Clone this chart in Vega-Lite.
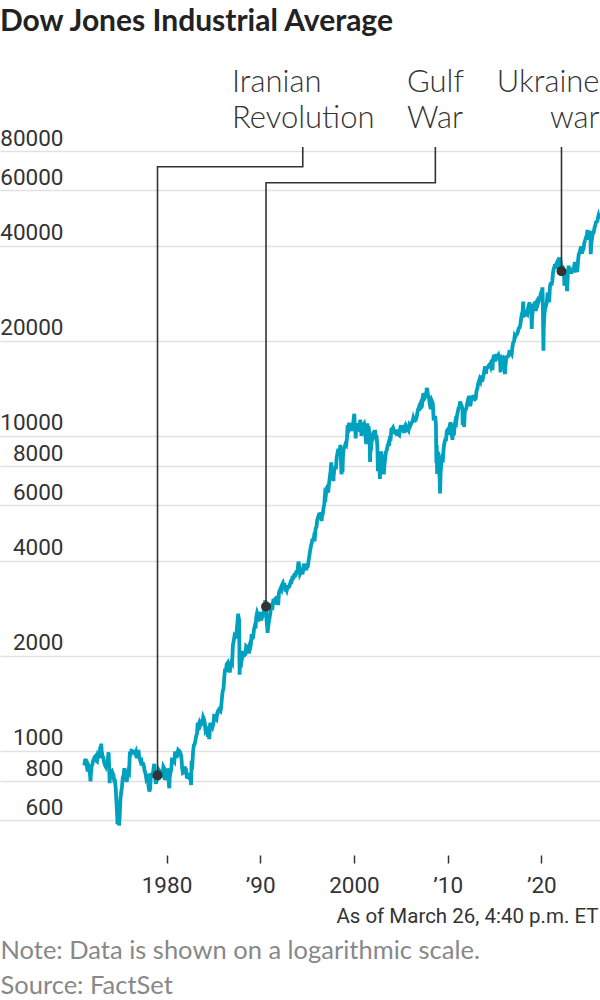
{
  "$schema": "https://vega.github.io/schema/vega-lite/v6.json",
  "width": 600,
  "height": 815,
  "autosize": {"type": "none"},
  "padding": {"left": 0, "right": 0, "top": 40, "bottom": 145},
  "background": "white",
  "title": {"text": "Dow Jones Industrial Average", "anchor": "start", "frame": "group", "font": "Lato", "fontSize": 30, "fontWeight": "bold", "color": "#222222", "offset": 3},
  "config": {"view": {"stroke": null}, "font": "Lato"},
  "datasets": {
    "dow": [
      {"t":1971.2,"v":897},{"t":1971.25,"v":904},{"t":1971.333,"v":942},{"t":1971.417,"v":907},{"t":1971.5,"v":891},{"t":1971.583,"v":858},{"t":1971.667,"v":898},{"t":1971.75,"v":887},{"t":1971.833,"v":839},{"t":1971.89,"v":798},{"t":1971.917,"v":831},
      {"t":1972.0,"v":890},{"t":1972.083,"v":902},{"t":1972.167,"v":928},{"t":1972.25,"v":940},{"t":1972.333,"v":954},{"t":1972.417,"v":960},{"t":1972.5,"v":929},{"t":1972.583,"v":924},{"t":1972.667,"v":964},{"t":1972.75,"v":953},{"t":1972.833,"v":956},{"t":1972.917,"v":1018},
      {"t":1973.0,"v":1020},{"t":1973.03,"v":1051},{"t":1973.083,"v":999},{"t":1973.167,"v":955},{"t":1973.25,"v":951},{"t":1973.333,"v":921},{"t":1973.417,"v":901},{"t":1973.5,"v":891},{"t":1973.583,"v":926},{"t":1973.667,"v":888},{"t":1973.75,"v":947},{"t":1973.82,"v":987},{"t":1973.833,"v":957},{"t":1973.917,"v":822},{"t":1973.93,"v":788},
      {"t":1974.0,"v":851},{"t":1974.083,"v":856},{"t":1974.167,"v":861},{"t":1974.25,"v":847},{"t":1974.333,"v":837},{"t":1974.417,"v":802},{"t":1974.5,"v":802},{"t":1974.583,"v":757},{"t":1974.667,"v":679},{"t":1974.75,"v":608},{"t":1974.76,"v":584},{"t":1974.833,"v":666},{"t":1974.917,"v":619},{"t":1974.93,"v":578},
      {"t":1975.0,"v":616},{"t":1975.083,"v":704},{"t":1975.167,"v":739},{"t":1975.25,"v":768},{"t":1975.333,"v":821},{"t":1975.417,"v":832},{"t":1975.5,"v":879},{"t":1975.583,"v":832},{"t":1975.667,"v":835},{"t":1975.75,"v":794},{"t":1975.833,"v":836},{"t":1975.917,"v":860},
      {"t":1976.0,"v":852},{"t":1976.083,"v":975},{"t":1976.167,"v":973},{"t":1976.25,"v":999},{"t":1976.333,"v":997},{"t":1976.417,"v":975},{"t":1976.5,"v":1003},{"t":1976.583,"v":985},{"t":1976.667,"v":974},{"t":1976.75,"v":990},{"t":1976.833,"v":965},{"t":1976.917,"v":947},
      {"t":1977.0,"v":1004},{"t":1977.083,"v":954},{"t":1977.167,"v":936},{"t":1977.25,"v":919},{"t":1977.333,"v":926},{"t":1977.417,"v":898},{"t":1977.5,"v":916},{"t":1977.583,"v":890},{"t":1977.667,"v":862},{"t":1977.75,"v":847},{"t":1977.833,"v":818},{"t":1977.917,"v":829},
      {"t":1978.0,"v":831},{"t":1978.083,"v":770},{"t":1978.167,"v":742},{"t":1978.25,"v":757},{"t":1978.333,"v":837},{"t":1978.417,"v":840},{"t":1978.5,"v":819},{"t":1978.583,"v":862},{"t":1978.69,"v":907},{"t":1978.75,"v":865},{"t":1978.833,"v":792},{"t":1978.87,"v":785},{"t":1978.917,"v":799},
      {"t":1979.0,"v":805},{"t":1979.083,"v":839},{"t":1979.167,"v":808},{"t":1979.25,"v":862},{"t":1979.333,"v":855},{"t":1979.417,"v":822},{"t":1979.5,"v":842},{"t":1979.583,"v":846},{"t":1979.667,"v":888},{"t":1979.75,"v":878},{"t":1979.8,"v":806},{"t":1979.833,"v":815},{"t":1979.917,"v":822},
      {"t":1980.0,"v":839},{"t":1980.083,"v":876},{"t":1980.167,"v":863},{"t":1980.25,"v":786},{"t":1980.3,"v":759},{"t":1980.333,"v":817},{"t":1980.417,"v":851},{"t":1980.5,"v":868},{"t":1980.583,"v":935},{"t":1980.667,"v":933},{"t":1980.75,"v":932},{"t":1980.833,"v":924},{"t":1980.917,"v":993},
      {"t":1981.0,"v":964},{"t":1981.083,"v":947},{"t":1981.167,"v":975},{"t":1981.25,"v":1004},{"t":1981.333,"v":998},{"t":1981.417,"v":992},{"t":1981.5,"v":977},{"t":1981.583,"v":953},{"t":1981.667,"v":882},{"t":1981.75,"v":850},{"t":1981.833,"v":853},{"t":1981.917,"v":889},
      {"t":1982.0,"v":875},{"t":1982.083,"v":871},{"t":1982.167,"v":824},{"t":1982.25,"v":823},{"t":1982.333,"v":848},{"t":1982.417,"v":820},{"t":1982.5,"v":812},{"t":1982.583,"v":809},{"t":1982.62,"v":777},{"t":1982.667,"v":901},{"t":1982.75,"v":896},{"t":1982.833,"v":992},{"t":1982.917,"v":1039},
      {"t":1983.0,"v":1047},{"t":1983.083,"v":1076},{"t":1983.167,"v":1113},{"t":1983.25,"v":1130},{"t":1983.333,"v":1226},{"t":1983.417,"v":1200},{"t":1983.5,"v":1222},{"t":1983.583,"v":1199},{"t":1983.667,"v":1216},{"t":1983.75,"v":1233},{"t":1983.833,"v":1225},{"t":1983.917,"v":1276},
      {"t":1984.0,"v":1259},{"t":1984.083,"v":1221},{"t":1984.167,"v":1155},{"t":1984.25,"v":1165},{"t":1984.333,"v":1171},{"t":1984.417,"v":1105},{"t":1984.5,"v":1132},{"t":1984.55,"v":1087},{"t":1984.583,"v":1115},{"t":1984.667,"v":1224},{"t":1984.75,"v":1207},{"t":1984.833,"v":1207},{"t":1984.917,"v":1189},
      {"t":1985.0,"v":1212},{"t":1985.083,"v":1287},{"t":1985.167,"v":1284},{"t":1985.25,"v":1267},{"t":1985.333,"v":1258},{"t":1985.417,"v":1315},{"t":1985.5,"v":1336},{"t":1985.583,"v":1348},{"t":1985.667,"v":1334},{"t":1985.75,"v":1329},{"t":1985.833,"v":1374},{"t":1985.917,"v":1472},
      {"t":1986.0,"v":1547},{"t":1986.083,"v":1571},{"t":1986.167,"v":1710},{"t":1986.25,"v":1819},{"t":1986.333,"v":1784},{"t":1986.417,"v":1877},{"t":1986.5,"v":1893},{"t":1986.583,"v":1775},{"t":1986.667,"v":1898},{"t":1986.75,"v":1768},{"t":1986.833,"v":1878},{"t":1986.917,"v":1914},
      {"t":1987.0,"v":1896},{"t":1987.083,"v":2158},{"t":1987.167,"v":2224},{"t":1987.25,"v":2305},{"t":1987.333,"v":2286},{"t":1987.417,"v":2292},{"t":1987.5,"v":2419},{"t":1987.583,"v":2572},{"t":1987.65,"v":2722},{"t":1987.667,"v":2663},{"t":1987.75,"v":2596},{"t":1987.8,"v":1739},{"t":1987.833,"v":1994},{"t":1987.917,"v":1834},
      {"t":1988.0,"v":1939},{"t":1988.083,"v":1958},{"t":1988.167,"v":2072},{"t":1988.25,"v":1988},{"t":1988.333,"v":2032},{"t":1988.417,"v":2031},{"t":1988.5,"v":2142},{"t":1988.583,"v":2129},{"t":1988.667,"v":2032},{"t":1988.75,"v":2113},{"t":1988.833,"v":2149},{"t":1988.917,"v":2115},
      {"t":1989.0,"v":2169},{"t":1989.083,"v":2342},{"t":1989.167,"v":2258},{"t":1989.25,"v":2294},{"t":1989.333,"v":2419},{"t":1989.417,"v":2480},{"t":1989.5,"v":2440},{"t":1989.583,"v":2661},{"t":1989.667,"v":2737},{"t":1989.75,"v":2693},{"t":1989.79,"v":2569},{"t":1989.833,"v":2645},{"t":1989.917,"v":2706},
      {"t":1990.0,"v":2753},{"t":1990.083,"v":2591},{"t":1990.167,"v":2627},{"t":1990.25,"v":2707},{"t":1990.333,"v":2657},{"t":1990.417,"v":2877},{"t":1990.5,"v":2881},{"t":1990.54,"v":3000},{"t":1990.583,"v":2905},{"t":1990.62,"v":2864},{"t":1990.667,"v":2614},{"t":1990.75,"v":2453},{"t":1990.78,"v":2365},{"t":1990.833,"v":2442},{"t":1990.917,"v":2560},
      {"t":1991.0,"v":2634},{"t":1991.083,"v":2736},{"t":1991.167,"v":2882},{"t":1991.25,"v":2914},{"t":1991.333,"v":2888},{"t":1991.417,"v":3028},{"t":1991.5,"v":2907},{"t":1991.583,"v":3025},{"t":1991.667,"v":3044},{"t":1991.75,"v":3017},{"t":1991.833,"v":3069},{"t":1991.917,"v":2895},
      {"t":1992.0,"v":3169},{"t":1992.083,"v":3224},{"t":1992.167,"v":3267},{"t":1992.25,"v":3236},{"t":1992.333,"v":3359},{"t":1992.417,"v":3397},{"t":1992.5,"v":3319},{"t":1992.583,"v":3394},{"t":1992.667,"v":3257},{"t":1992.75,"v":3272},{"t":1992.833,"v":3226},{"t":1992.917,"v":3305},
      {"t":1993.0,"v":3301},{"t":1993.083,"v":3310},{"t":1993.167,"v":3370},{"t":1993.25,"v":3435},{"t":1993.333,"v":3428},{"t":1993.417,"v":3527},{"t":1993.5,"v":3516},{"t":1993.583,"v":3540},{"t":1993.667,"v":3651},{"t":1993.75,"v":3555},{"t":1993.833,"v":3681},{"t":1993.917,"v":3684},
      {"t":1994.0,"v":3754},{"t":1994.083,"v":3978},{"t":1994.167,"v":3832},{"t":1994.25,"v":3636},{"t":1994.333,"v":3682},{"t":1994.417,"v":3758},{"t":1994.5,"v":3625},{"t":1994.583,"v":3765},{"t":1994.667,"v":3913},{"t":1994.75,"v":3843},{"t":1994.833,"v":3908},{"t":1994.917,"v":3739},
      {"t":1995.0,"v":3834},{"t":1995.083,"v":3844},{"t":1995.167,"v":4011},{"t":1995.25,"v":4158},{"t":1995.333,"v":4321},{"t":1995.417,"v":4465},{"t":1995.5,"v":4556},{"t":1995.583,"v":4709},{"t":1995.667,"v":4611},{"t":1995.75,"v":4789},{"t":1995.833,"v":4756},{"t":1995.917,"v":5075},
      {"t":1996.0,"v":5117},{"t":1996.083,"v":5395},{"t":1996.167,"v":5486},{"t":1996.25,"v":5587},{"t":1996.333,"v":5569},{"t":1996.417,"v":5643},{"t":1996.5,"v":5655},{"t":1996.55,"v":5346},{"t":1996.583,"v":5529},{"t":1996.667,"v":5616},{"t":1996.75,"v":5882},{"t":1996.833,"v":6029},{"t":1996.917,"v":6522},
      {"t":1997.0,"v":6448},{"t":1997.083,"v":6813},{"t":1997.167,"v":6878},{"t":1997.25,"v":6584},{"t":1997.333,"v":7009},{"t":1997.417,"v":7331},{"t":1997.5,"v":7673},{"t":1997.583,"v":8223},{"t":1997.667,"v":7622},{"t":1997.75,"v":7945},{"t":1997.82,"v":7161},{"t":1997.833,"v":7442},{"t":1997.917,"v":7823},
      {"t":1998.0,"v":7908},{"t":1998.083,"v":7907},{"t":1998.167,"v":8546},{"t":1998.25,"v":8800},{"t":1998.333,"v":9063},{"t":1998.417,"v":8900},{"t":1998.5,"v":8952},{"t":1998.55,"v":9338},{"t":1998.583,"v":8883},{"t":1998.667,"v":7539},{"t":1998.75,"v":7843},{"t":1998.78,"v":7632},{"t":1998.833,"v":8592},{"t":1998.917,"v":9117},
      {"t":1999.0,"v":9181},{"t":1999.083,"v":9359},{"t":1999.167,"v":9307},{"t":1999.25,"v":9786},{"t":1999.333,"v":10789},{"t":1999.417,"v":10560},{"t":1999.5,"v":10971},{"t":1999.583,"v":10655},{"t":1999.667,"v":10829},{"t":1999.75,"v":10337},{"t":1999.833,"v":10730},{"t":1999.917,"v":10878},
      {"t":2000.0,"v":11497},{"t":2000.04,"v":11723},{"t":2000.083,"v":10941},{"t":2000.167,"v":10128},{"t":2000.19,"v":9796},{"t":2000.25,"v":10922},{"t":2000.333,"v":10734},{"t":2000.417,"v":10522},{"t":2000.5,"v":10448},{"t":2000.583,"v":10522},{"t":2000.667,"v":11215},{"t":2000.75,"v":10651},{"t":2000.8,"v":9975},{"t":2000.833,"v":10971},{"t":2000.917,"v":10415},
      {"t":2001.0,"v":10787},{"t":2001.083,"v":10887},{"t":2001.167,"v":10495},{"t":2001.25,"v":9879},{"t":2001.3,"v":9389},{"t":2001.333,"v":10735},{"t":2001.417,"v":10912},{"t":2001.5,"v":10502},{"t":2001.583,"v":10523},{"t":2001.667,"v":9950},{"t":2001.72,"v":8236},{"t":2001.75,"v":8848},{"t":2001.833,"v":9075},{"t":2001.917,"v":9852},
      {"t":2002.0,"v":10022},{"t":2002.083,"v":9920},{"t":2002.167,"v":10106},{"t":2002.25,"v":10404},{"t":2002.333,"v":9946},{"t":2002.417,"v":9925},{"t":2002.5,"v":9243},{"t":2002.56,"v":7702},{"t":2002.583,"v":8737},{"t":2002.667,"v":8664},{"t":2002.75,"v":7592},{"t":2002.775,"v":7286},{"t":2002.833,"v":8397},{"t":2002.917,"v":8896},
      {"t":2003.0,"v":8342},{"t":2003.083,"v":8054},{"t":2003.167,"v":7891},{"t":2003.19,"v":7524},{"t":2003.25,"v":7992},{"t":2003.333,"v":8480},{"t":2003.417,"v":8850},{"t":2003.5,"v":8985},{"t":2003.583,"v":9234},{"t":2003.667,"v":9416},{"t":2003.75,"v":9275},{"t":2003.833,"v":9801},{"t":2003.917,"v":9782},
      {"t":2004.0,"v":10454},{"t":2004.083,"v":10488},{"t":2004.167,"v":10584},{"t":2004.25,"v":10358},{"t":2004.333,"v":10226},{"t":2004.417,"v":10188},{"t":2004.5,"v":10435},{"t":2004.583,"v":10140},{"t":2004.667,"v":10174},{"t":2004.75,"v":10080},{"t":2004.833,"v":10027},{"t":2004.917,"v":10428},
      {"t":2005.0,"v":10783},{"t":2005.083,"v":10490},{"t":2005.167,"v":10766},{"t":2005.25,"v":10504},{"t":2005.333,"v":10193},{"t":2005.417,"v":10467},{"t":2005.5,"v":10275},{"t":2005.583,"v":10641},{"t":2005.667,"v":10482},{"t":2005.75,"v":10569},{"t":2005.833,"v":10440},{"t":2005.917,"v":10806},
      {"t":2006.0,"v":10718},{"t":2006.083,"v":10865},{"t":2006.167,"v":10993},{"t":2006.25,"v":11109},{"t":2006.333,"v":11367},{"t":2006.417,"v":11168},{"t":2006.5,"v":11150},{"t":2006.583,"v":11186},{"t":2006.667,"v":11381},{"t":2006.75,"v":11679},{"t":2006.833,"v":12081},{"t":2006.917,"v":12221},
      {"t":2007.0,"v":12463},{"t":2007.083,"v":12622},{"t":2007.167,"v":12269},{"t":2007.25,"v":12354},{"t":2007.333,"v":13063},{"t":2007.417,"v":13628},{"t":2007.5,"v":13409},{"t":2007.583,"v":13212},{"t":2007.667,"v":13358},{"t":2007.75,"v":13896},{"t":2007.77,"v":14165},{"t":2007.833,"v":13930},{"t":2007.917,"v":13372},
      {"t":2008.0,"v":13265},{"t":2008.083,"v":12650},{"t":2008.167,"v":12266},{"t":2008.25,"v":12263},{"t":2008.333,"v":12820},{"t":2008.417,"v":12638},{"t":2008.5,"v":11350},{"t":2008.583,"v":11378},{"t":2008.667,"v":11544},{"t":2008.75,"v":10851},{"t":2008.8,"v":8175},{"t":2008.833,"v":9325},{"t":2008.88,"v":7552},{"t":2008.917,"v":8829},
      {"t":2009.0,"v":8776},{"t":2009.083,"v":8001},{"t":2009.167,"v":7063},{"t":2009.19,"v":6547},{"t":2009.25,"v":7609},{"t":2009.333,"v":8168},{"t":2009.417,"v":8500},{"t":2009.5,"v":8447},{"t":2009.583,"v":9172},{"t":2009.667,"v":9496},{"t":2009.75,"v":9712},{"t":2009.833,"v":9713},{"t":2009.917,"v":10345},
      {"t":2010.0,"v":10428},{"t":2010.083,"v":10067},{"t":2010.167,"v":10325},{"t":2010.25,"v":10857},{"t":2010.333,"v":11009},{"t":2010.417,"v":10137},{"t":2010.5,"v":9774},{"t":2010.51,"v":9686},{"t":2010.583,"v":10466},{"t":2010.667,"v":10015},{"t":2010.75,"v":10788},{"t":2010.833,"v":11118},{"t":2010.917,"v":11006},
      {"t":2011.0,"v":11578},{"t":2011.083,"v":11892},{"t":2011.167,"v":12226},{"t":2011.25,"v":12320},{"t":2011.333,"v":12811},{"t":2011.417,"v":12570},{"t":2011.5,"v":12414},{"t":2011.583,"v":12143},{"t":2011.6,"v":10810},{"t":2011.667,"v":11614},{"t":2011.75,"v":10913},{"t":2011.76,"v":10655},{"t":2011.833,"v":11955},{"t":2011.917,"v":12046},
      {"t":2012.0,"v":12218},{"t":2012.083,"v":12633},{"t":2012.167,"v":12952},{"t":2012.25,"v":13212},{"t":2012.333,"v":13214},{"t":2012.417,"v":12393},{"t":2012.5,"v":12880},{"t":2012.583,"v":13009},{"t":2012.667,"v":13091},{"t":2012.75,"v":13437},{"t":2012.833,"v":13096},{"t":2012.917,"v":13026},
      {"t":2013.0,"v":13104},{"t":2013.083,"v":13861},{"t":2013.167,"v":14054},{"t":2013.25,"v":14579},{"t":2013.333,"v":14840},{"t":2013.417,"v":15116},{"t":2013.5,"v":14910},{"t":2013.583,"v":15500},{"t":2013.667,"v":14810},{"t":2013.75,"v":15130},{"t":2013.833,"v":15546},{"t":2013.917,"v":16086},
      {"t":2014.0,"v":16577},{"t":2014.083,"v":15699},{"t":2014.167,"v":16322},{"t":2014.25,"v":16458},{"t":2014.333,"v":16581},{"t":2014.417,"v":16717},{"t":2014.5,"v":16827},{"t":2014.583,"v":16563},{"t":2014.667,"v":17098},{"t":2014.75,"v":17043},{"t":2014.79,"v":16117},{"t":2014.833,"v":17391},{"t":2014.917,"v":17828},
      {"t":2015.0,"v":17823},{"t":2015.083,"v":17165},{"t":2015.167,"v":18133},{"t":2015.25,"v":17776},{"t":2015.333,"v":17841},{"t":2015.417,"v":18011},{"t":2015.5,"v":17620},{"t":2015.583,"v":17690},{"t":2015.65,"v":15871},{"t":2015.667,"v":16528},{"t":2015.75,"v":16285},{"t":2015.833,"v":17664},{"t":2015.917,"v":17720},
      {"t":2016.0,"v":17425},{"t":2016.083,"v":16466},{"t":2016.11,"v":15660},{"t":2016.167,"v":16517},{"t":2016.25,"v":17685},{"t":2016.333,"v":17774},{"t":2016.417,"v":17787},{"t":2016.5,"v":17930},{"t":2016.583,"v":18432},{"t":2016.667,"v":18401},{"t":2016.75,"v":18308},{"t":2016.833,"v":18142},{"t":2016.917,"v":19124},
      {"t":2017.0,"v":19763},{"t":2017.083,"v":19864},{"t":2017.167,"v":20812},{"t":2017.25,"v":20663},{"t":2017.333,"v":20941},{"t":2017.417,"v":21009},{"t":2017.5,"v":21350},{"t":2017.583,"v":21891},{"t":2017.667,"v":21948},{"t":2017.75,"v":22405},{"t":2017.833,"v":23377},{"t":2017.917,"v":24272},
      {"t":2018.0,"v":24719},{"t":2018.07,"v":26617},{"t":2018.083,"v":26149},{"t":2018.1,"v":23860},{"t":2018.167,"v":25029},{"t":2018.25,"v":24103},{"t":2018.333,"v":24163},{"t":2018.417,"v":24416},{"t":2018.5,"v":24271},{"t":2018.583,"v":25415},{"t":2018.667,"v":25965},{"t":2018.75,"v":26458},{"t":2018.833,"v":25116},{"t":2018.917,"v":25538},{"t":2018.98,"v":21792},
      {"t":2019.0,"v":23327},{"t":2019.083,"v":24999},{"t":2019.167,"v":25916},{"t":2019.25,"v":25929},{"t":2019.333,"v":26593},{"t":2019.417,"v":24815},{"t":2019.5,"v":26600},{"t":2019.583,"v":26864},{"t":2019.667,"v":26403},{"t":2019.75,"v":26917},{"t":2019.833,"v":27046},{"t":2019.917,"v":28051},
      {"t":2020.0,"v":28538},{"t":2020.083,"v":28256},{"t":2020.12,"v":29551},{"t":2020.167,"v":25409},{"t":2020.225,"v":18592},{"t":2020.25,"v":21917},{"t":2020.333,"v":24346},{"t":2020.417,"v":25383},{"t":2020.5,"v":25813},{"t":2020.583,"v":26428},{"t":2020.667,"v":28430},{"t":2020.75,"v":27782},{"t":2020.833,"v":26502},{"t":2020.917,"v":29639},
      {"t":2021.0,"v":30606},{"t":2021.083,"v":29983},{"t":2021.167,"v":30932},{"t":2021.25,"v":32982},{"t":2021.333,"v":33875},{"t":2021.417,"v":34529},{"t":2021.5,"v":34503},{"t":2021.583,"v":34935},{"t":2021.667,"v":35361},{"t":2021.75,"v":33844},{"t":2021.833,"v":35820},{"t":2021.917,"v":34484},
      {"t":2022.0,"v":36338},{"t":2022.01,"v":36799},{"t":2022.083,"v":35132},{"t":2022.15,"v":33224},{"t":2022.167,"v":33893},{"t":2022.25,"v":34678},{"t":2022.333,"v":32977},{"t":2022.417,"v":32990},{"t":2022.46,"v":29888},{"t":2022.5,"v":30775},{"t":2022.583,"v":32845},{"t":2022.667,"v":31510},{"t":2022.75,"v":28726},{"t":2022.833,"v":32733},{"t":2022.917,"v":34590},
      {"t":2023.0,"v":33147},{"t":2023.083,"v":34086},{"t":2023.167,"v":32657},{"t":2023.25,"v":33274},{"t":2023.333,"v":34098},{"t":2023.417,"v":32908},{"t":2023.5,"v":34408},{"t":2023.583,"v":35560},{"t":2023.667,"v":34722},{"t":2023.75,"v":33508},{"t":2023.833,"v":33053},{"t":2023.917,"v":35951},
      {"t":2024.0,"v":37690},{"t":2024.083,"v":38150},{"t":2024.167,"v":38996},{"t":2024.25,"v":39807},{"t":2024.333,"v":37816},{"t":2024.417,"v":38686},{"t":2024.5,"v":39119},{"t":2024.583,"v":40843},{"t":2024.667,"v":41563},{"t":2024.75,"v":42330},{"t":2024.833,"v":41763},{"t":2024.917,"v":44911},
      {"t":2025.0,"v":42544},{"t":2025.083,"v":44545},{"t":2025.167,"v":43841},{"t":2025.25,"v":42002},{"t":2025.27,"v":37645},{"t":2025.333,"v":40669},{"t":2025.417,"v":42270},{"t":2025.5,"v":44095},{"t":2025.583,"v":44131},{"t":2025.667,"v":45545},{"t":2025.75,"v":46398},{"t":2025.833,"v":47563},{"t":2025.917,"v":47716},
      {"t":2026.0,"v":48063},{"t":2026.04,"v":49100},{"t":2026.1,"v":49900},{"t":2026.15,"v":49300},{"t":2026.19,"v":48800},{"t":2026.23,"v":49700}
    ],
    "events": [
      {"event":"Iranian Revolution","t":1979.04,"v":835},
      {"event":"Gulf War","t":1990.62,"v":2864},
      {"event":"Ukraine war","t":2022.15,"v":33224}
    ],
    "connectors": [
      {"event":"Iranian Revolution","i":1,"t":1979.04,"v":835},
      {"event":"Iranian Revolution","i":2,"t":1979.04,"v":71340},
      {"event":"Iranian Revolution","i":3,"t":1994.54,"v":71340},
      {"event":"Iranian Revolution","i":4,"t":1994.54,"v":82400},
      {"event":"Gulf War","i":1,"t":1990.62,"v":2864},
      {"event":"Gulf War","i":2,"t":1990.62,"v":63460},
      {"event":"Gulf War","i":3,"t":2008.69,"v":63460},
      {"event":"Gulf War","i":4,"t":2008.69,"v":82400},
      {"event":"Ukraine war","i":1,"t":2022.15,"v":33224},
      {"event":"Ukraine war","i":2,"t":2022.15,"v":82400}
    ],
    "labels": [
      {"event":"Iranian Revolution","label":"Iranian\nRevolution","t":1986.99,"v":123200},
      {"event":"Gulf War","label":"Gulf\nWar","t":2005.67,"v":123200},
      {"event":"Ukraine war","label":"Ukraine\nwar","t":2026.21,"v":123200}
    ]
  },
  "encoding": {
    "x": {
      "field": "t",
      "type": "quantitative",
      "scale": {"domain": [1962.23, 2026.26], "nice": false, "zero": false},
      "axis": {
        "values": [1980, 1990, 2000, 2010, 2020],
        "labelExpr": "datum.value == 1980 || datum.value == 2000 ? toString(datum.value) : '’' + substring(toString(datum.value), 2)",
        "title": "As of March 26, 4:40 p.m. ET",
        "titleX": 598,
        "titleY": 67,
        "titleAlign": "right",
        "titleAnchor": "end",
        "titleBaseline": "alphabetic",
        "titleFont": "Roboto",
        "titleFontSize": 20.5,
        "titleFontWeight": "normal",
        "titleColor": "#333333",
        "domain": false,
        "grid": false,
        "ticks": true,
        "tickSize": 8,
        "tickWidth": 1.5,
        "tickColor": "#333333",
        "labelFont": "Roboto",
        "labelFontSize": 22.5,
        "labelColor": "#333333",
        "labelPadding": 11,
        "labelFlush": false,
        "labelOverlap": false
      }
    },
    "y": {
      "field": "v",
      "type": "quantitative",
      "scale": {"type": "log", "domain": [466, 180100], "nice": false, "zero": false},
      "axis": {
        "values": [600, 800, 1000, 2000, 4000, 6000, 8000, 10000, 20000, 40000, 60000, 80000],
        "format": "d",
        "title": ["Note: Data is shown on a logarithmic scale.", "Source: FactSet"],
        "titleAngle": 0,
        "titleAlign": "left",
        "titleBaseline": "alphabetic",
        "titleX": 0,
        "titleY": 918,
        "titleFont": "Lato",
        "titleFontSize": 25.5,
        "titleFontWeight": "normal",
        "titleColor": "#888888",
        "titleLineHeight": 35,
        "domain": false,
        "ticks": false,
        "tickSize": 0,
        "grid": true,
        "gridColor": "#e1e1e1",
        "gridWidth": 1.5,
        "labelAlign": "right",
        "labelBaseline": "alphabetic",
        "labelPadding": -63,
        "labelOffset": -6,
        "labelFont": "Roboto",
        "labelFontSize": 22.5,
        "labelColor": "#333333",
        "labelOverlap": false
      }
    }
  },
  "layer": [
    {
      "data": {"name": "dow"},
      "mark": {"type": "line", "color": "#00a1bf", "strokeWidth": 3.8, "strokeJoin": "miter"}
    },
    {
      "data": {"name": "connectors"},
      "mark": {"type": "line", "color": "#333333", "strokeWidth": 1.6},
      "encoding": {"detail": {"field": "event"}, "order": {"field": "i", "type": "quantitative"}}
    },
    {
      "data": {"name": "events"},
      "mark": {"type": "point", "filled": true, "color": "#333333", "size": 100, "opacity": 1}
    },
    {
      "data": {"name": "labels"},
      "transform": [{"filter": "datum.event != 'Ukraine war'"}],
      "mark": {"type": "text", "align": "left", "baseline": "alphabetic", "font": "Lato", "fontWeight": 300, "fontSize": 31, "lineHeight": 36, "lineBreak": "\n", "color": "#333333"},
      "encoding": {"text": {"field": "label"}}
    },
    {
      "data": {"name": "labels"},
      "transform": [{"filter": "datum.event == 'Ukraine war'"}],
      "mark": {"type": "text", "align": "right", "baseline": "alphabetic", "font": "Lato", "fontWeight": 300, "fontSize": 31, "lineHeight": 36, "lineBreak": "\n", "color": "#333333"},
      "encoding": {"text": {"field": "label"}}
    }
  ]
}
